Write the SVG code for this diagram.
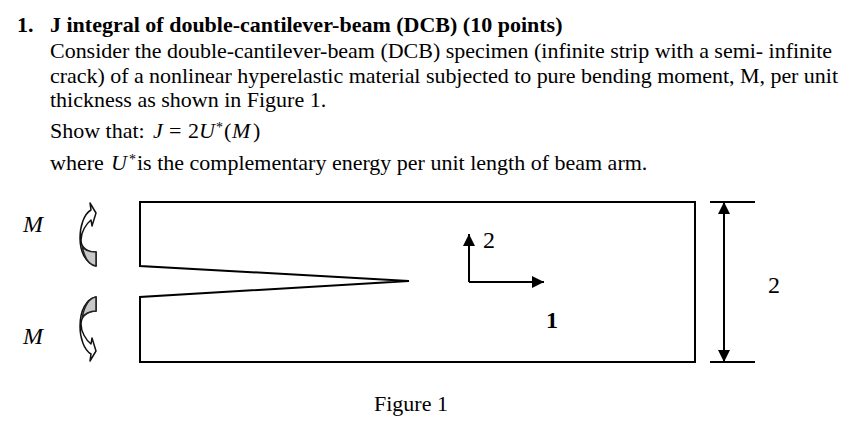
<svg xmlns="http://www.w3.org/2000/svg" width="867" height="428" viewBox="0 0 867 428">
<defs><marker id="a" viewBox="0 0 12 12" refX="12" refY="6" markerWidth="12" markerHeight="12" markerUnits="userSpaceOnUse" orient="auto-start-reverse"><path d="M0 0L12 6L0 12z" fill="#000"/></marker></defs>
<style>text{font-family:"Liberation Serif",serif;font-size:22px;fill:#000}.i{font-style:italic}.b{font-weight:bold}.s{font-size:14px}.k{font-size:24px}.l{fill:none;stroke:#000;stroke-width:2}.w{fill:#fff;stroke:#111;stroke-width:1.5;stroke-linejoin:round}.g{fill:#c8c8c8;stroke:#222;stroke-width:1.5}</style>
<rect width="867" height="428" fill="#fff"/>
<text x="17" y="32" class="b">1.</text>
<text x="50" y="32" class="b">J integral of double-cantilever-beam (DCB) (10 points)</text>
<text x="50" y="58" textLength="782">Consider the double-cantilever-beam (DCB) specimen (infinite strip with a semi- infinite</text>
<text x="50" y="83" textLength="788">crack) of a nonlinear hyperelastic material subjected to pure bending moment, M, per unit</text>
<text x="50" y="107">thickness as shown in Figure 1.</text>
<text x="50" y="138">Show that:</text>
<text x="153" y="138" class="i">J</text><text x="169" y="138">=</text><text x="188" y="138">2</text><text x="199" y="138" class="i">U</text><text x="216" y="132" class="s">*</text><text x="224" y="138">(</text><text x="232" y="138" class="i">M</text><text x="253" y="138">)</text>
<text x="50" y="170">where</text><text x="111" y="170" class="i">U</text><text x="129" y="164" class="s">*</text><text x="137" y="170">is the complementary energy per unit length of beam arm.</text>
<g id="specimen"><path class="l" d="M140 202H695V362H140V297L409 281L140 266Z"/></g>
<g id="connectors">
<path class="l" marker-end="url(#a)" d="M469 282V234"/>
<path class="l" marker-end="url(#a)" d="M469 282H544"/>
<path class="l" marker-start="url(#a)" marker-end="url(#a)" d="M724 202V362"/>
<path class="l" d="M710 202H755M710 362H755"/>
</g>
<g id="moment-top">
<path class="w" d="M90 203L96 213L92 226L91 220C86 224 81 232 81 240C81 248 88 252 96 252V266C86 264 80 252 80 238C80 226 84 214 91 210Z"/>
<path class="g" d="M82 246C84 250 90 252 96 252V266C88 265 84 256 82 246Z"/>
</g>
<g id="moment-bottom">
<path class="w" d="M90 361L96 351L92 338L91 344C86 340 81 332 81 324C81 316 88 311 96 311V297C86 299 80 311 80 326C80 338 84 350 91 354Z"/>
<path class="g" d="M82 318C84 314 90 311 96 311V297C88 298 84 308 82 318Z"/>
</g>
<text x="23" y="232" class="i k">M</text><text x="23" y="344" class="i k">M</text>
<text x="483" y="248" class="k">2</text><text x="546" y="328" class="b k">1</text><text x="768" y="293" class="k">2</text>
<text x="374" y="411">Figure 1</text>
</svg>
